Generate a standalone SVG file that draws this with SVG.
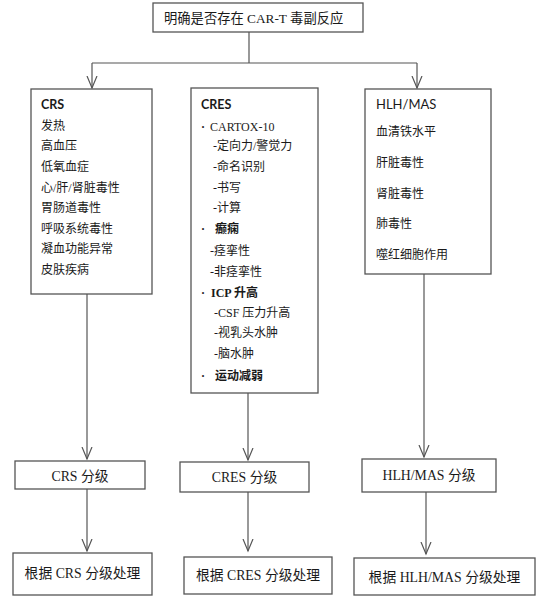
<svg xmlns="http://www.w3.org/2000/svg" width="537" height="597" viewBox="0 0 537 597">
<style>
.box{fill:#fff;stroke:#555;stroke-width:1.3}
.ln{fill:none;stroke:#555;stroke-width:1.2}
.t{font-family:"Liberation Serif","Noto Sans CJK SC",serif;font-size:12px;fill:#1a1a1a}
.m{font-size:13.8px}
.b{font-weight:bold}
.h{font-family:Lato,"Liberation Sans",sans-serif;font-size:13px;fill:#1a1a1a}
.c{text-anchor:middle}
</style>
<defs>
<marker id="v" viewBox="0 -6 14 12" refX="12" refY="0" markerWidth="14" markerHeight="12" markerUnits="userSpaceOnUse" orient="auto">
<path d="M0,-5 L12,0 L0,5" fill="none" stroke="#555" stroke-width="1.2"/>
</marker>
</defs>
<rect width="537" height="597" fill="#fff"/>
<g id="connectors">
<path class="ln" d="M249,32 V63 M92,63 H417"/>
<path class="ln" d="M92,63 V88" marker-end="url(#v)"/>
<path class="ln" d="M417,63 V88" marker-end="url(#v)"/>
<path class="ln" d="M87,294 V459" marker-end="url(#v)"/>
<path class="ln" d="M87,489 V551" marker-end="url(#v)"/>
<path class="ln" d="M248,393 V460" marker-end="url(#v)"/>
<path class="ln" d="M248,492 V551" marker-end="url(#v)"/>
<path class="ln" d="M424,274 V457" marker-end="url(#v)"/>
<path class="ln" d="M426,492 V554" marker-end="url(#v)"/>
</g>
<g id="top">
<rect class="box" x="153" y="3" width="210" height="29"/>
<text class="t" x="164" y="23" style="font-size:13.3px">明确是否存在 CAR-T 毒副反应</text>
</g>
<g id="crs">
<rect class="box" x="31" y="89" width="121" height="205"/>
<text class="h b" x="41" y="109" style="font-size:12.5px">CRS</text>
<text class="t" x="41" y="130">发热</text>
<text class="t" x="41" y="150">高血压</text>
<text class="t" x="41" y="171">低氧血症</text>
<text class="t" x="41" y="192">心/肝/肾脏毒性</text>
<text class="t" x="41" y="212">胃肠道毒性</text>
<text class="t" x="41" y="233">呼吸系统毒性</text>
<text class="t" x="41" y="253">凝血功能异常</text>
<text class="t" x="41" y="274">皮肤疾病</text>
</g>
<g id="cres">
<rect class="box" x="191" y="88" width="127" height="305"/>
<text class="h b" x="201" y="109" style="font-size:12.5px">CRES</text>
<text class="t b" x="201" y="131">·</text>
<text class="t" x="210" y="131">CARTOX-10</text>
<text class="t" x="213" y="150">-定向力/警觉力</text>
<text class="t" x="213" y="171">-命名识别</text>
<text class="t" x="213" y="192">-书写</text>
<text class="t" x="213" y="212">-计算</text>
<text class="t b" x="201" y="233">·</text>
<text class="t b" x="215" y="233">癫痫</text>
<text class="t" x="210" y="255">-痉挛性</text>
<text class="t" x="210" y="276">-非痉挛性</text>
<text class="t b" x="201" y="297">·</text>
<text class="t b" x="211" y="297">ICP 升高</text>
<text class="t" x="214" y="317">-CSF 压力升高</text>
<text class="t" x="214" y="337">-视乳头水肿</text>
<text class="t" x="214" y="358">-脑水肿</text>
<text class="t b" x="201" y="380">·</text>
<text class="t b" x="215" y="380">运动减弱</text>
</g>
<g id="hlh">
<rect class="box" x="365" y="89" width="126" height="185"/>
<text class="h" x="376" y="109">HLH/MAS</text>
<text class="t" x="376" y="136">血清铁水平</text>
<text class="t" x="376" y="167">肝脏毒性</text>
<text class="t" x="376" y="198">肾脏毒性</text>
<text class="t" x="376" y="228">肺毒性</text>
<text class="t" x="376" y="259">噬红细胞作用</text>
</g>
<g id="crs-grade">
<rect class="box" x="15" y="461" width="130" height="28"/>
<text class="t m c" x="80" y="481">CRS 分级</text>
</g>
<g id="cres-grade">
<rect class="box" x="180" y="462" width="129" height="30"/>
<text class="t m c" x="244.5" y="482">CRES 分级</text>
</g>
<g id="hlh-grade">
<rect class="box" x="362" y="459" width="134" height="33"/>
<text class="t m c" x="429" y="480">HLH/MAS 分级</text>
</g>
<g id="crs-treat">
<rect class="box" x="13" y="553" width="139" height="42"/>
<text class="t m c" x="82.5" y="578">根据 CRS 分级处理</text>
</g>
<g id="cres-treat">
<rect class="box" x="184" y="557" width="148" height="37"/>
<text class="t m c" x="258" y="580">根据 CRES 分级处理</text>
</g>
<g id="hlh-treat">
<rect class="box" x="354" y="558" width="181" height="37"/>
<text class="t m c" x="444.5" y="582">根据 HLH/MAS 分级处理</text>
</g>
</svg>
